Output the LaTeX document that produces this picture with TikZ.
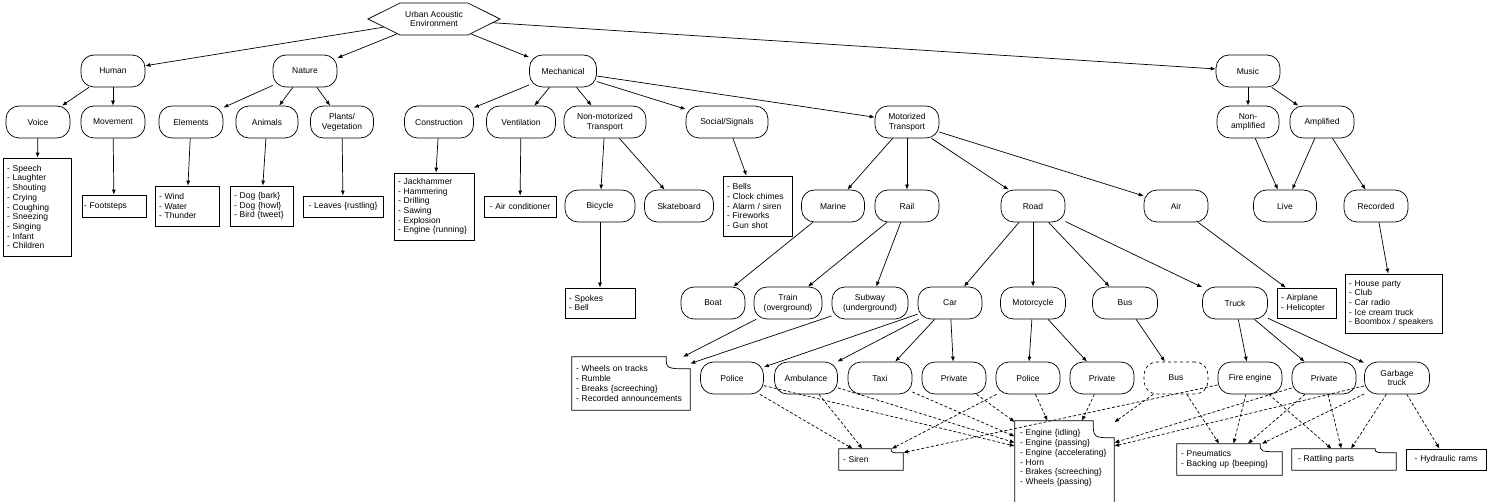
\documentclass[tikz,border=0pt]{standalone}
\usepackage{fontspec}
\setmainfont{Liberation Sans}
\usetikzlibrary{arrows.meta,shapes.symbols,calc}
\newcommand{\diagfont}{\fontsize{8.5}{9.7}\selectfont}
\newcommand{\drawnote}[3]{%
  \draw[line width=0.7pt] (#1.north west) -- ($(#1.north east)+(-#2,0)$)
    .. controls ($(#1.north east)+(-#2,#3)$) .. ($(#1.north east)+(0,#3)$)
    -- (#1.south east) -- (#1.south west) -- cycle;}
\tikzset{
  cat/.style={draw, line width=0.7pt, rounded corners=13pt, minimum height=32pt,
    minimum width=64pt, align=center, inner sep=1pt, font=\diagfont},
  lst/.style={draw, line width=0.7pt, align=left, inner xsep=4pt, inner ysep=0pt, font=\diagfont},
  lstc/.style={draw, line width=0.7pt, align=center, inner xsep=2pt, inner ysep=0pt, font=\diagfont},
  notebox/.style={align=left, inner xsep=4pt, inner ysep=0pt, font=\diagfont},
  arr/.style={-{Latex[length=5pt,width=4pt]}, line width=0.7pt},
  darr/.style={arr, dash pattern=on 3pt off 2pt},
}
\begin{document}
\begin{tikzpicture}[x=1pt,y=-1pt]
\fill[white] (0,0) rectangle (1489,502);
\useasboundingbox (0,0) rectangle (1489,502);

% root
\node[signal, signal to=west and east, signal pointer angle=53, draw, line width=0.7pt,
  minimum width=132pt, minimum height=32pt, inner sep=1pt, align=center, font=\diagfont]
  (root) at (434,19) {Urban Acoustic\\Environment};

% level 1
\node[cat] (human) at (113,71) {Human};
\node[cat] (nature) at (305,71) {Nature};
\node[cat, minimum width=67pt] (mech) at (563,71) {Mechanical};
\node[cat] (music) at (1248,71) {Music};

% level 2
\node[cat] (voice) at (38,122) {Voice};
\node[cat] (movement) at (113,122) {Movement};
\node[cat] (elements) at (191,122) {Elements};
\node[cat, minimum width=62pt] (animals) at (267,122) {Animals};
\node[cat, minimum width=63pt] (plants) at (342,122) {Plants/\\Vegetation};
\node[cat, minimum width=69pt] (construction) at (439,122) {Construction};
\node[cat, minimum width=69pt] (ventilation) at (521,122) {Ventilation};
\node[cat, minimum width=82pt] (nonmot) at (605,122) {Non-motorized\\Transport};
\node[cat, minimum width=82pt] (social) at (727,122) {Social/Signals};
\node[cat] (motor) at (907,122) {Motorized\\Transport};
\node[cat, minimum width=62pt] (nonamp) at (1248,122) {Non-\\amplified};
\node[cat] (amplified) at (1322,122) {Amplified};

% lists level 2
\node[lst, text width=60pt, minimum height=98pt] (voicelist) at (37,207)
  {- Speech\\- Laughter\\- Shouting\\- Crying\\- Coughing\\- Sneezing\\- Singing\\- Infant\\- Children};
\node[lst, inner xsep=2pt, text width=60pt, minimum height=22pt] (footsteps) at (114,206) {- Footsteps};
\node[lst, text width=56pt, minimum height=40pt] (elemlist) at (187,206) {- Wind\\- Water\\- Thunder};
\node[lst, text width=55pt, minimum height=40pt] (animlist) at (261.5,206) {- Dog \{bark\}\\- Dog \{howl\}\\- Bird \{tweet\}};
\node[lstc, text width=76pt, minimum height=21pt] (leaves) at (343,206.5) {- Leaves \{rustling\}};
\node[lst, text width=72pt, minimum height=67pt] (constrlist) at (434,206.5)
  {- Jackhammer\\- Hammering\\- Drilling\\- Sawing\\- Explosion\\- Engine \{running\}};
\node[lstc, text width=68pt, minimum height=21pt] (ac) at (520,206.5) {- Air conditioner};
\node[lst, text width=61pt, minimum height=60pt] (sociallist) at (757.5,206)
  {- Bells\\- Clock chimes\\- Alarm / siren\\- Fireworks\\- Gun shot};

% level 3
\node[cat, minimum width=70pt] (bicycle) at (600,206) {Bicycle};
\node[cat, minimum width=69pt] (skateboard) at (679,206) {Skateboard};
\node[cat, minimum width=63pt] (marine) at (833,206) {Marine};
\node[cat] (rail) at (907,206) {Rail};
\node[cat] (road) at (1033,206) {Road};
\node[cat] (air) at (1176,206) {Air};
\node[cat, minimum width=63pt] (live) at (1285,206) {Live};
\node[cat] (recorded) at (1376,206) {Recorded};

\node[lst, text width=62pt, minimum height=30pt] (spokes) at (600,303) {- Spokes\\- Bell};

% level 4
\node[cat] (boat) at (713,303) {Boat};
\node[cat, minimum width=68pt] (train) at (788,303) {Train\\(overground)};
\node[cat, minimum width=76pt] (subway) at (870,303) {Subway\\(underground)};
\node[cat] (car) at (950,303) {Car};
\node[cat, minimum width=65pt] (motorcycle) at (1033,303) {Motorcycle};
\node[cat, minimum width=65pt] (bus) at (1125,303) {Bus};
\node[cat, minimum width=65pt] (truck) at (1235,303) {Truck};
\node[lst, text width=51pt, minimum height=30pt] (airlist) at (1306.5,303) {- Airplane\\- Helicopter};
\node[lst, text width=89pt, minimum height=59pt] (houselist) at (1393.5,303.5)
  {- House party\\- Club\\- Car radio\\- Ice cream truck\\- Boombox / speakers};

% level 5
\node[cat, minimum width=63pt] (police1) at (732,378) {Police};
\node[cat, minimum width=63pt] (ambulance) at (806,378) {Ambulance};
\node[cat] (taxi) at (880,378) {Taxi};
\node[cat] (private1) at (954,378) {Private};
\node[cat] (police2) at (1028,378) {Police};
\node[cat] (private2) at (1102,378) {Private};
\node[cat, dashed] (busd) at (1176,378) {Bus};
\node[cat] (fire) at (1250,378) {Fire engine};
\node[cat] (private3) at (1324,378) {Private};
\node[cat, minimum width=65pt] (garbage) at (1397,378) {Garbage\\truck};

% notes
\node[notebox, text width=110pt, minimum height=53pt] (wheels) at (631,383.5)
  {- Wheels on tracks\\- Rumble\\- Breaks \{screeching\}\\- Recorded announcements};
\drawnote{wheels}{24}{12}
\node[notebox, text width=56pt, minimum height=21pt] (siren) at (871,459.5) {- Siren};
\drawnote{siren}{12}{4}
\node[notebox, inner xsep=5pt, text width=89pt, minimum height=74pt] (eng) at (1064.5,458)
  {- Engine \{idling\}\\- Engine \{passing\}\\- Engine \{accelerating\}\\- Horn\\- Brakes \{screeching\}\\- Wheels \{passing\}};
\draw[line width=0.7pt] (eng.north west) -- ($(eng.north east)+(-21,0)$)
  .. controls ($(eng.north east)+(-21,17)$) .. ($(eng.north east)+(0,17)$)
  -- ($(eng.south east)+(0,80)$) -- ($(eng.south west)+(0,80)$) -- cycle;
\node[notebox, text width=97pt, minimum height=31pt] (pneu) at (1229.5,459.5)
  {- Pneumatics\\- Backing up \{beeping\}};
\drawnote{pneu}{22}{8}
\node[notebox, inner xsep=6pt, text width=92pt, minimum height=21pt] (rattle) at (1344,459.5) {- Rattling parts};
\drawnote{rattle}{21}{4}
\node[lstc, text width=76pt, minimum height=21pt] (hydraulic) at (1446,459.5) {- Hydraulic rams};

% solid connectors
\foreach \a/\b in {root/human, root/nature, root/mech, root/music,
  human/voice, human/movement, nature/elements, nature/animals, nature/plants,
  mech/construction, mech/ventilation, mech/nonmot, mech/social, mech/motor,
  music/nonamp, music/amplified,
  voice/voicelist, movement/footsteps, elements/elemlist, animals/animlist,
  plants/leaves, construction/constrlist, ventilation/ac, social/sociallist,
  nonmot/bicycle, nonmot/skateboard, bicycle/spokes,
  motor/marine, motor/rail, motor/road, motor/air,
  nonamp/live, amplified/live, amplified/recorded, recorded/houselist, air/airlist,
  marine/boat, rail/train, rail/subway, road/car, road/motorcycle, road/bus, road/truck,
  train/wheels, subway/wheels,
  car/police1, car/ambulance, car/taxi, car/private1,
  motorcycle/police2, motorcycle/private2, bus/busd,
  truck/fire, truck/private3, truck/garbage}
  \draw[arr] (\a) -- (\b);

% dashed connectors
\foreach \a/\b in {police1/siren, police1/eng, ambulance/siren, ambulance/eng,
  taxi/eng, private1/eng, police2/siren, police2/eng, private2/eng,
  busd/eng, busd/pneu, fire/siren, fire/pneu, fire/rattle,
  private3/eng, private3/pneu, private3/rattle,
  garbage/eng, garbage/pneu, garbage/rattle, garbage/hydraulic}
  \draw[darr] (\a) -- (\b);
\end{tikzpicture}
\end{document}
